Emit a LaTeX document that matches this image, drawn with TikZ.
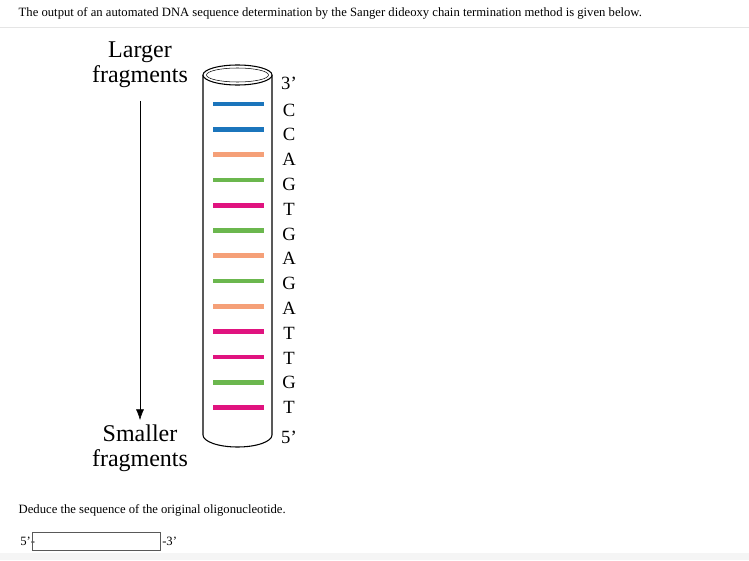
\documentclass[tikz,border=0pt]{standalone}
\usepackage{fontspec}
\usetikzlibrary{arrows.meta}
\setmainfont{Liberation Serif}
\definecolor{cb}{HTML}{1B75BC}
\definecolor{ca}{HTML}{F5A078}
\definecolor{cg}{HTML}{6BB74E}
\definecolor{ct}{HTML}{E0137F}
\newcommand{\pr}{{\char"27}}
\begin{document}
\begin{tikzpicture}[x=0.75pt,y=-0.75pt,
  band/.style={line width=3.5pt},
  lab/.style={font=\fontsize{14}{14}\selectfont},
  big/.style={font=\fontsize{18}{19}\selectfont,align=center},
  small/.style={font=\fontsize{9.5}{10}\selectfont,anchor=west}]
\useasboundingbox (0,0) rectangle (749,560);
\fill[gray!8] (0,553) rectangle (749,560);
\draw[gray!20] (0,27) -- (749,27);
\node[small] (hd) at (14,13) {The output of an automated DNA sequence determination by the Sanger dideoxy chain termination method is given below.};
% tube
\draw[thick] (203,75) -- (203,435) arc[start angle=180,end angle=0,x radius=34.5,y radius=12] -- (272,75);
\draw[thick,fill=white] (237.5,75) ellipse[x radius=34.5,y radius=10];
\draw (237.5,75) ellipse[x radius=31,y radius=7];
\node[lab] (p3) at (289,83) {3\pr};
\node[lab] (p5) at (289,437) {5\pr};
\foreach \c/\l [count=\i from 0] in {cb/C,cb/C,ca/A,cg/G,ct/T,cg/G,ca/A,cg/G,ca/A,ct/T,ct/T,cg/G,ct/T}{
  \draw[band,\c] (213,{104+25.3*\i}) -- (264,{104+25.3*\i});
  \node[lab] (l\i) at (289,{110+24.8*\i}) {\l};
}
\node[big] (lg) at (140,65) {Larger\\fragments};
\node[big] (sm) at (140,448) {Smaller\\fragments};
\draw[-{Latex[length=8pt,width=6pt]}] (lg.south) ++(0,8) coordinate (a0) (a0) -- (140,420) coordinate (a1);
\node[small] (q) at (14,510) {Deduce the sequence of the original oligonucleotide.};
\node[small,inner sep=0pt] (f5) at (20,541) {5\pr-};
\draw[gray!70!black] (32,532) rectangle (160,550);
\node[small,inner sep=0pt] (f3) at (162,541) {-3\pr};
\end{tikzpicture}
\end{document}
